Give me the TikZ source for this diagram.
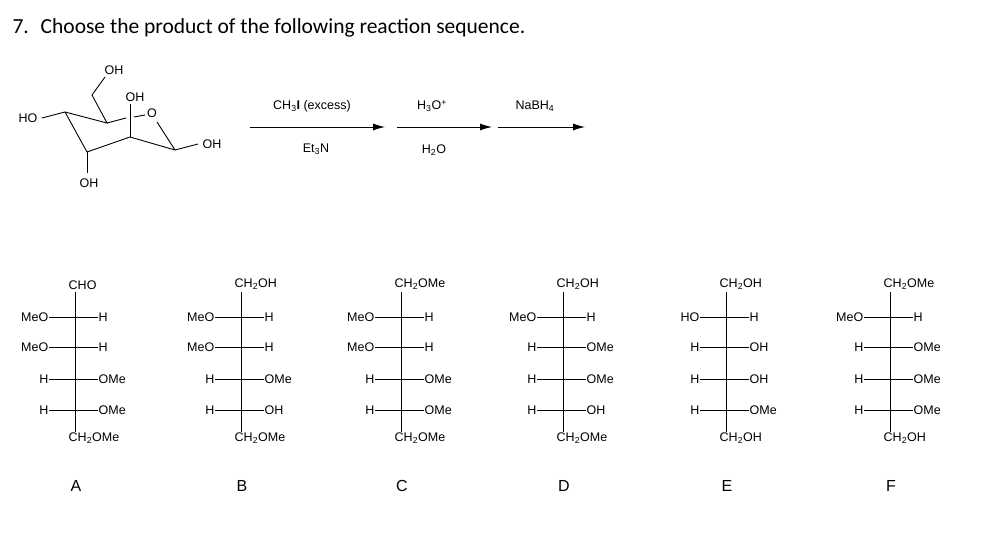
\documentclass[tikz,border=0pt]{standalone}
\usepackage{fontspec}
\setmainfont{Liberation Sans}
\newfontfamily\titlefont{Carlito}
\usetikzlibrary{arrows.meta}
\begin{document}
\begin{tikzpicture}[x=1pt,y=-1pt,
 lbl/.style={font=\fontsize{12.5}{14}\selectfont,inner sep=0.5pt},
 bond/.style={line width=0.9pt},
 rxn/.style={line width=0.9pt,-{Latex[length=12pt,width=7pt]}}]
\useasboundingbox (0,0) rectangle (988,559);
\node[anchor=west,font=\titlefont\fontsize{21.5}{24}\selectfont] (title) at (9,28) {7.\hspace{0.55em}Choose the product of the following reaction sequence.};
% chair
\coordinate (c4) at (65,112); \coordinate (c3) at (87,152); \coordinate (c2) at (130,137);
\coordinate (c1) at (175,150); \coordinate (o) at (157,122); \coordinate (c5) at (107,123);
\coordinate (c6) at (92,95);
\draw[bond,line join=round] (c4)--(c3)--(c2)--(c1)--(o);
\draw[bond] (c4)--(c5)--(c6)--(105,77);
\draw[bond] (c5)--(126,118);
\draw[bond] (134,117)--(145,115);
\draw[bond] (c2)--(130,104);
\draw[bond] (c4)--(42,118);
\draw[bond] (c1)--(198,144);
\draw[bond] (c3)--(87,173);
\node[lbl] (oh6) at (114,70) {OH};
\node[lbl] (oh2) at (135,97) {OH};
\node[lbl] (ringo) at (152,113) {O};
\node[lbl] (oh4) at (28,118) {HO};
\node[lbl] (oh1) at (212,144) {OH};
\node[lbl] (oh3) at (89,183) {OH};
% arrows
\coordinate (a1s) at (250,127); \coordinate (a1e) at (385,127);
\coordinate (a2s) at (397,127); \coordinate (a2e) at (492,127);
\coordinate (a3s) at (498,127); \coordinate (a3e) at (585,127);
\draw[rxn] (a1s)--(a1e); \draw[rxn] (a2s)--(a2e); \draw[rxn] (a3s)--(a3e);
\node[lbl] (r1) at (312,106) {CH\textsubscript{3}\textbf{I} (excess)};
\node[lbl] (r2) at (316,149) {Et\textsubscript{3}N};
\node[lbl] (r3) at (432,106) {H\textsubscript{3}O\textsuperscript{+}};
\node[lbl] (r4) at (434,150) {H\textsubscript{2}O};
\node[lbl] (r5) at (535,106) {NaBH\textsubscript{4}};
% Fischer projections
\foreach \x/\t/\la/\ra/\lb/\rb/\lc/\rc/\ld/\rd/\bt/\L in {
 75/CHO/MeO/H/MeO/H/H/OMe/H/OMe/CH\textsubscript{2}OMe/A,
 241/CH\textsubscript{2}OH/MeO/H/MeO/H/H/OMe/H/OH/CH\textsubscript{2}OMe/B,
 401/CH\textsubscript{2}OMe/MeO/H/MeO/H/H/OMe/H/OMe/CH\textsubscript{2}OMe/C,
 563/CH\textsubscript{2}OH/MeO/H/H/OMe/H/OMe/H/OH/CH\textsubscript{2}OMe/D,
 726/CH\textsubscript{2}OH/HO/H/H/OH/H/OH/H/OMe/CH\textsubscript{2}OH/E,
 890/CH\textsubscript{2}OMe/MeO/H/H/OMe/H/OMe/H/OMe/CH\textsubscript{2}OH/F}{
 \node[lbl,anchor=south west] (top\L) at (\x-7,290) {\t};
 \node[lbl,anchor=north west] (bot\L) at (\x-7,432) {\bt};
 \node[font=\fontsize{16}{18}\selectfont] (let\L) at (\x+1,486) {\L};
 \draw[bond] (\x,292)--(\x,432);
 \foreach \y/\l/\r [count=\i] in {317/\la/\ra,347/\lb/\rb,379/\lc/\rc,410/\ld/\rd}{
  \node[lbl,anchor=east] (l\L\i) at (\x-26,\y) {\l};
  \node[lbl,anchor=west] (r\L\i) at (\x+23,\y) {\r};
  \draw[bond] (l\L\i.east)--(r\L\i.west);
 }
}
\end{tikzpicture}
\end{document}
